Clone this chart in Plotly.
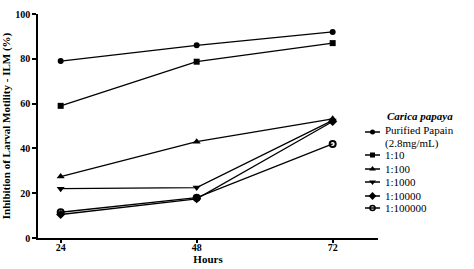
import plotly.graph_objects as go

hours = [24, 48, 72]
series_names = ["Purified Papain<br>(2.8mg/mL)", "1:10", "1:100", "1:1000", "1:10000", "1:100000"]
legend_title = "Carica papaya"
papain = [79, 86, 92]
d_10 = [59, 78.7, 87]
d_100 = [27.4, 43, 53.2]
d_1000 = [22, 22.5, 52.5]
d_10000 = [10.5, 17.5, 52]
d_100000 = [11.5, 18, 42]
values = [papain, d_10, d_100, d_1000, d_10000, d_100000]
y_ticks = [0, 20, 40, 60, 80, 100]

symbols = ["circle", "square", "triangle-up", "triangle-down", "diamond", "circle-open"]
sizes = [6, 6, 7, 7, 7, 6]
# legend layout (pixel offsets inside the legend axes)
leg_rows = [118, 141, 155, 168, 182, 194]

font_family = "Liberation Serif, Times New Roman, serif"
W, H = 474, 269
ML, MR, MT, MB = 38, 10, 14, 31
PW = W - ML - MR
main_right = 378
leg_left_px = 357.5

fig = go.Figure()
for name, v, s, sz in zip(series_names, values, symbols, sizes):
    fig.add_trace(go.Scatter(
        x=hours, y=v, name=name, mode="lines+markers", showlegend=False,
        line=dict(color="black", width=1.3),
        marker=dict(symbol=s, size=sz, color="black",
                    line=dict(color="black", width=2 if s == "circle-open" else 0)),
        xaxis="x", yaxis="y",
    ))

# custom compact legend
leg_w = W - MR - leg_left_px
for name, s, sz, ly in zip(series_names, symbols, sizes, leg_rows):
    fig.add_trace(go.Scatter(
        x=[7.5, 22.5], y=[ly, ly], mode="lines", showlegend=False, hoverinfo="skip",
        line=dict(color="black", width=1.3), xaxis="x2", yaxis="y2",
    ))
    fig.add_trace(go.Scatter(
        x=[15], y=[ly], mode="markers", showlegend=False, hoverinfo="skip",
        marker=dict(symbol=s, size=sz - 1, color="black",
                    line=dict(color="black", width=1.6 if s == "circle-open" else 0)),
        xaxis="x2", yaxis="y2",
    ))
    lines = name.split("<br>")
    offs = [0] if len(lines) == 1 else [-2, 11]
    for ln, off in zip(lines, offs):
        fig.add_annotation(x=25.5, y=ly + off, xref="x2", yref="y2", text=ln,
                           showarrow=False, xanchor="left", yanchor="middle",
                           font=dict(size=11, family=font_family, color="black"))
fig.add_annotation(x=27, y=102, xref="x2", yref="y2", text=f"<b><i>{legend_title}</i></b>",
                   showarrow=False, xanchor="left", yanchor="middle",
                   font=dict(size=11, family=font_family, color="black"))

fig.update_layout(
    width=W, height=H,
    margin=dict(l=ML, r=MR, t=MT, b=MB, autoexpand=False),
    paper_bgcolor="white", plot_bgcolor="white",
    font=dict(family=font_family, color="black", size=10),
    showlegend=False,
    xaxis=dict(
        domain=[0, (main_right - ML) / PW], automargin=False,
        range=[20, 80], tickvals=hours, ticktext=[f"<b>{h}</b>" for h in hours],
        showline=True, linecolor="black", linewidth=1.5,
        ticks="outside", ticklen=3, tickwidth=1.5, tickcolor="black",
        ticklabelstandoff=-4,
        showgrid=False, zeroline=False,
        title=dict(text="<b>Hours</b>", font=dict(size=11), standoff=3),
        tickfont=dict(size=10),
    ),
    yaxis=dict(
        range=[0, 100], tickvals=y_ticks, automargin=False,
        ticktext=[f"<b>{t}</b>" for t in y_ticks],
        showline=True, linecolor="black", linewidth=1.5,
        ticks="outside", ticklen=4, tickwidth=1.5, tickcolor="black",
        showgrid=False, zeroline=False,
        title=dict(text="<b>Inhibition of Larval Motility - ILM (%)</b>", font=dict(size=11), standoff=3),
        tickfont=dict(size=10),
    ),
    xaxis2=dict(domain=[(leg_left_px - ML) / PW, 1], range=[0, leg_w], visible=False,
                anchor="y2", fixedrange=True),
    yaxis2=dict(domain=[0, 1], range=[H - MT - MB, 0], visible=False,
                anchor="x2", fixedrange=True),
)
fig.write_html("out.html")
